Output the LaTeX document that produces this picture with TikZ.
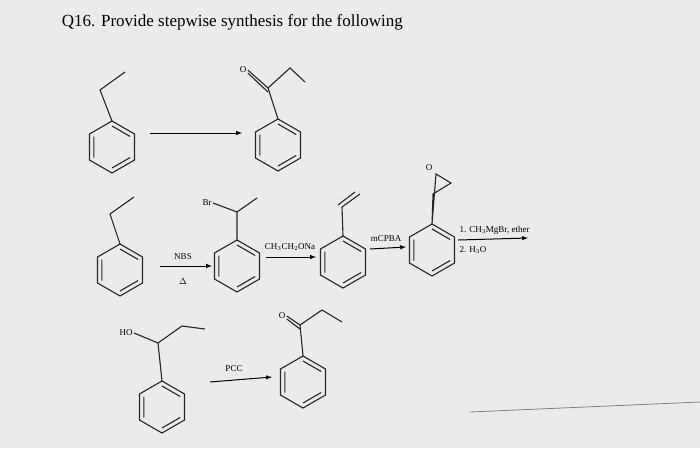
\documentclass[tikz,border=0pt]{standalone}
\usepackage{fontspec}
\setmainfont{Liberation Serif}
\begin{document}
\begin{tikzpicture}[x=1pt,y=-1pt,line width=1.1pt,
  bond/.style={draw=black!85},
  rxn/.style={-latex,line width=1pt},
  lbl/.style={font=\fontsize{9}{10}\selectfont,inner sep=1pt},
  ring/.pic={
    \draw[bond] (90:26)--(150:26)--(210:26)--(270:26)--(330:26)--(390:26)--cycle;
    \draw[bond] (150:21)--(210:21) (270:21)--(330:21) (30:21)--(90:21);
  }]
\useasboundingbox (0,0) rectangle (700,448);
\fill[black!8] (0,0) rectangle (700,448);
\node[anchor=west,font=\fontsize{17}{20}\selectfont] (title) at (58,22) {Q16. Provide stepwise synthesis for the following};
% row 1
\pic (r1) at (112,147) {ring};
\draw[bond] (112,121)--(100,90) coordinate (a1)--(125,72);
\pic (r2) at (278,145) {ring};
\draw[bond] (278,119)--(268,88) coordinate (c2)--(290,68)--(305,82);
\node[lbl] (o2) at (243,70) {O};
\draw[bond] (c2)--(o2.east);
\draw[bond] ([yshift=-4pt]c2)--([yshift=-3pt]o2.east);
\coordinate (A1) at (150,133); \coordinate (B1) at (242,133);
\draw[rxn] (A1)--(B1);
% row 2
\pic (r3) at (120,270) {ring};
\draw[bond] (120,244)--(110,214)--(134,197);
\coordinate (A2) at (160,266); \coordinate (B2) at (212,266);
\draw[rxn] (A2)--(B2);
\node[lbl] (nbs) at (183,257) {NBS};
\node[lbl] (delta) at (183,281) {$\Delta$};
\pic (r4) at (237,266) {ring};
\draw[bond] (237,240)--(237,212) coordinate (c4)--(257,198);
\node[lbl] (br) at (207,203) {Br};
\draw[bond] (c4)--(br.east);
\coordinate (A3) at (266,257); \coordinate (B3) at (316,257);
\draw[rxn] (A3)--(B3);
\node[lbl] (eto) at (290,247) {CH$_3$CH$_2$ONa};
\pic (r5) at (343,262) {ring};
\draw[bond] (343,236)--(342,207) coordinate (c5)--(360,194);
\draw[bond] (338,205)--(355,192);
\coordinate (A4) at (370,249); \coordinate (B4) at (406,247);
\draw[rxn] (A4)--(B4);
\node[lbl] (mcpba) at (386,239) {mCPBA};
\pic (r6) at (432,250) {ring};
\draw[bond] (432,224)--(433,194) coordinate (c6)--(451,183) coordinate (d6)--(436,174) coordinate (o6)--cycle;
\node[lbl] (ox) at (429,168) {O};
\coordinate (A5) at (458,240); \coordinate (B5) at (528,238);
\draw[rxn] (A5)--(B5);
\node[lbl,anchor=west] (g1) at (458,230) {1. CH$_3$MgBr, ether};
\node[lbl,anchor=west] (g2) at (458,250) {2. H$_3$O};
% row 3
\pic (r7) at (162,407) {ring};
\draw[bond] (162,381)--(158,343) coordinate (c7)--(182,326)--(205,329);
\node[lbl] (ho) at (126,333) {HO};
\draw[bond] (c7)--(ho.east);
\coordinate (A6) at (210,382); \coordinate (B6) at (272,377);
\draw[rxn] (A6)--(B6);
\node[lbl] (pcc) at (234,369) {PCC};
\pic (r8) at (303,382) {ring};
\draw[bond] (303,356)--(300,325) coordinate (c8)--(322,310)--(342,322);
\node[lbl] (o8) at (282,316) {O};
\draw[bond] (c8)--(o8.east);
\draw[bond] ([yshift=-4pt]c8)--([yshift=-3pt]o8.east);
\coordinate (L1) at (470,412); \coordinate (L2) at (700,402);
\draw[black!50,line width=0.8pt] (L1)--(L2);
\end{tikzpicture}
\end{document}
